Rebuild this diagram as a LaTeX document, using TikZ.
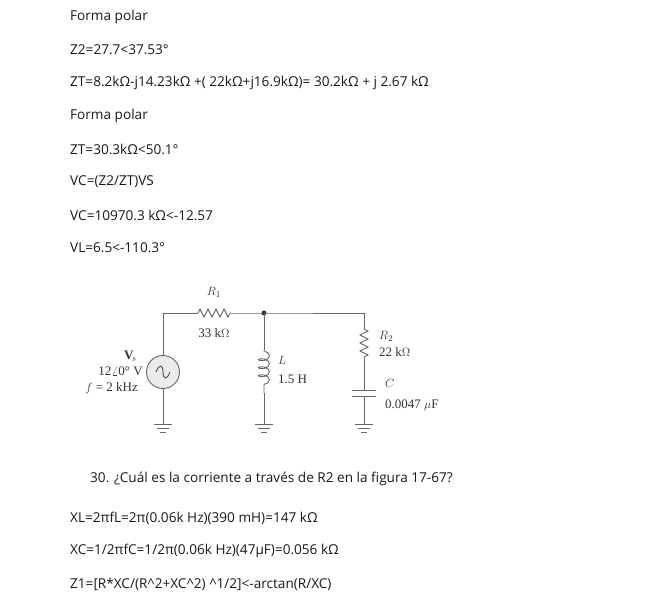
\documentclass[tikz,border=0pt]{standalone}
\usepackage{fontspec}
\setmainfont{Open Sans}
\newfontfamily\serifc{Liberation Serif}
\usetikzlibrary{decorations.pathmorphing}
\begin{document}
\begin{tikzpicture}[x=1pt,y=-1pt,
  txt/.style={anchor=west,inner sep=0pt,font=\fontsize{13.6}{15}\selectfont,text=black!90},
  lab/.style={inner sep=1pt,font=\serifc\fontsize{13}{15}\selectfont,text=black!80},
  wire/.style={draw=black!60,line width=0.9pt},
  gnd/.style={draw=black!60,line width=1pt}]
\useasboundingbox (0,0) rectangle (649,598);
\node[txt] (t1) at (70,17) {Forma polar};
\node[txt] (t2) at (70,50) {Z2=27.7<37.53°};
\node[txt] (t3) at (70,83) {ZT=8.2kΩ-j14.23kΩ +( 22kΩ+j16.9kΩ)= 30.2kΩ + j 2.67 kΩ};
\node[txt] (t4) at (70,116) {Forma polar};
\node[txt] (t5) at (70,149) {ZT=30.3kΩ<50.1°};
\node[txt] (t6) at (70,182) {VC=(Z2/ZT)VS};
\node[txt] (t7) at (70,215) {VC=10970.3 kΩ<-12.57};
\node[txt] (t8) at (70,248) {VL=6.5<-110.3°};
\node[txt] (t9) at (90,479) {30. ¿Cuál es la corriente a través de R2 en la figura 17-67?};
\node[txt] (t10) at (70,518) {XL=2πfL=2π(0.06k Hz)(390 mH)=147 kΩ};
\node[txt] (t11) at (70,551) {XC=1/2πfC=1/2π(0.06k Hz)(47μF)=0.056 kΩ};
\node[txt] (t12) at (70,584) {Z1=[R*XC/(R\^{}2+XC\^{}2) \^{}1/2]<-arctan(R/XC)};
% circuit
\coordinate (tl) at (163,313);
\coordinate (r1a) at (198,313);
\coordinate (r1b) at (231,313);
\coordinate (nd) at (264,313);
\coordinate (tr) at (364,313);
\node[circle,draw=black!60,fill=black!8,line width=0.9pt,minimum size=33pt,inner sep=0pt] (vs) at (163,372) {};
\draw[black!70,line width=0.9pt] (156,372) .. controls (159,364) and (163,364) .. (163,372) .. controls (163,380) and (167,380) .. (170,372);
\draw[wire] (vs.north) -- (tl) -- (r1a);
\draw[wire,decorate,decoration={zigzag,segment length=8pt,amplitude=4pt}] (r1a) -- (r1b);
\draw[wire] (r1b) -- (nd) -- (tr);
\fill[black!80] (nd) circle (2.5pt);
% inductor
\coordinate (la) at (264,350);
\coordinate (lb) at (264,393);
\draw[wire] (nd) -- (la);
\draw[wire,decorate,decoration={coil,segment length=8pt,amplitude=5.5pt,aspect=0.5,pre length=1pt,post length=1pt}] (la) -- (lb);
% R2
\coordinate (r2a) at (364,329);
\coordinate (r2b) at (364,358);
\draw[wire] (tr) -- (r2a);
\draw[wire,decorate,decoration={zigzag,segment length=8pt,amplitude=4pt}] (r2a) -- (r2b);
\coordinate (ca) at (364,390);
\coordinate (cb) at (364,396);
\draw[wire] (r2b) -- (ca);
\draw[gnd] (352,390) -- (376,390);
\draw[gnd] (352,396) -- (376,396);
% grounds
\foreach \n/\xx/\yt in {g1/163/389,g2/264/393,g3/364/396}{
  \coordinate (\n) at (\xx,424);
  \draw[wire] (\xx,\yt) -- (\n);
  \draw[gnd] (\xx-9,424) -- (\xx+9,424);
  \draw[gnd] (\xx-6,428) -- (\xx+6,428);
  \draw[gnd] (\xx-3,432) -- (\xx+3,432);
}
\draw[wire] (vs.south) -- (163,424);
% labels
\node[lab] (lR1) at (214,292) {$R_1$};
\node[lab] (lR1v) at (214,333) {33 k$\Omega$};
\node[lab,anchor=east] (lVs) at (138,356) {\textbf{V}$_{\!s}$};
\node[lab,anchor=east] (lVv) at (144,371) {12$\angle$0° V};
\node[lab,anchor=east] (lf) at (139,388) {$f$ = 2 kHz};
\node[lab,anchor=west] (lL) at (277,360) {$L$};
\node[lab,anchor=west] (lLv) at (277,379) {1.5 H};
\node[lab,anchor=west] (lR2) at (378,336) {$R_2$};
\node[lab,anchor=west] (lR2v) at (378,352) {22 k$\Omega$};
\node[lab,anchor=west] (lC) at (384,383) {$C$};
\node[lab,anchor=west] (lCv) at (384,405) {0.0047 $\mu$F};
\end{tikzpicture}
\end{document}
